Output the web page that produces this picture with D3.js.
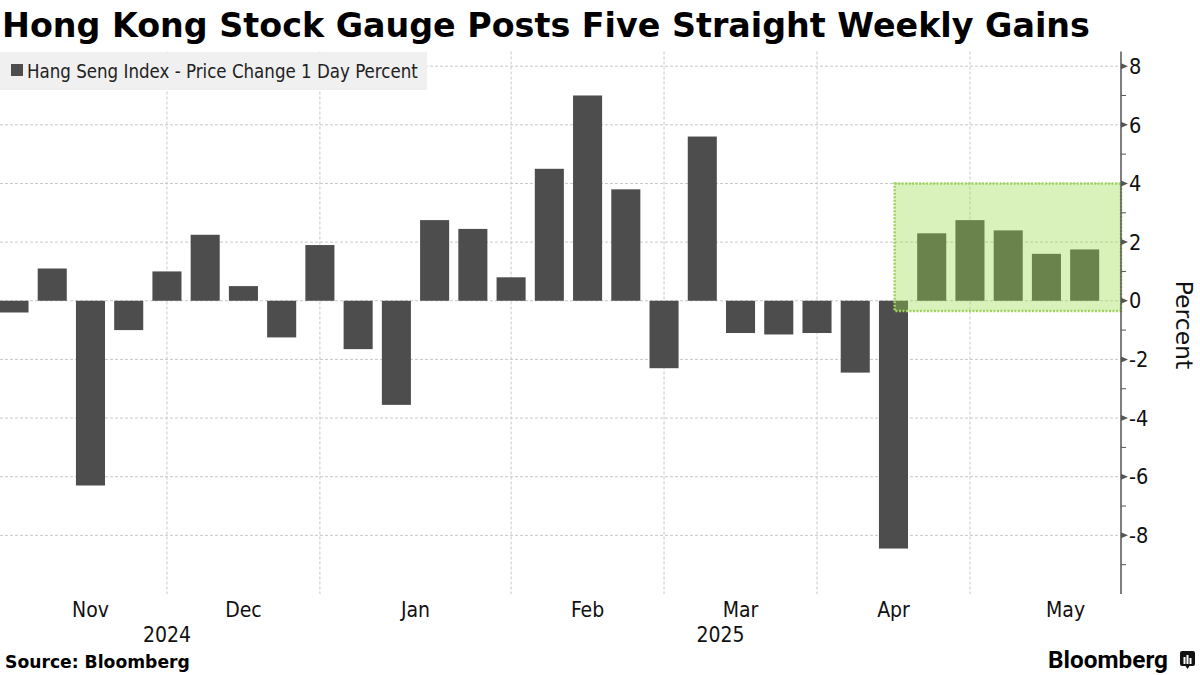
<!DOCTYPE html>
<html>
<head>
<meta charset="utf-8">
<script src="https://cdn.jsdelivr.net/npm/d3@7"></script>
<style>
  body { margin: 0; background: #fff; }
  svg { display: block; }
  text { font-family: "DejaVu Sans Condensed", "DejaVu Sans", sans-serif; font-stretch: condensed; }
</style>
</head>
<body>
<svg id="chart" width="1200" height="675"></svg>
<script>
// weekly data, week ending dates
const weeks = ["2024-11-01", "2024-11-08", "2024-11-15", "2024-11-22", "2024-11-29",
               "2024-12-06", "2024-12-13", "2024-12-20", "2024-12-27",
               "2025-01-03", "2025-01-10", "2025-01-17", "2025-01-24", "2025-01-31",
               "2025-02-07", "2025-02-14", "2025-02-21", "2025-02-28",
               "2025-03-07", "2025-03-14", "2025-03-21", "2025-03-28",
               "2025-04-03", "2025-04-11", "2025-04-17", "2025-04-25",
               "2025-05-02", "2025-05-09", "2025-05-16"]
const changes = [-0.4, 1.1, -6.3, -1.0, 1.0,
                 2.25, 0.5, -1.25, 1.9,
                 -1.65, -3.55, 2.75, 2.45, 0.8,
                 4.5, 7.0, 3.8, -2.3,
                 5.6, -1.1, -1.15, -1.1,
                 -2.45, -8.45, 2.3, 2.75,
                 2.4, 1.6, 1.75]
const yTicks = [-8, -6, -4, -2, 0, 2, 4, 6, 8]
const monthNames = ["Nov", "Dec", "Jan", "Feb", "Mar", "Apr", "May"]
const yearNames = ["2024", "2025"]
const streakStart = 24   // first of the five straight weekly gains
const streakTop = 4

const svg = d3.select("#chart")
const BAR = "#4d4d4d"
const plotRight = 1121

// scales
const x = d3.scaleLinear().domain([-0.366, 28.95]).range([0, plotRight])
const y = d3.scaleLinear().domain([-10, 8.5]).range([594, 51.5])
const step = x(1) - x(0)
const barW = step * 0.76

// month boundaries = last week of each month
const parse = d3.timeParse("%Y-%m-%d")
const dates = weeks.map(parse)
let monthLines = []
for (let i = 0; i < dates.length - 1; i++) {
    if (dates[i].getMonth() !== dates[i + 1].getMonth()) monthLines.push(i)
}

// grid
const grid = svg.append("g")
grid.selectAll("line.h")
    .data(yTicks)
    .enter().append("line")
    .attr("x1", 0).attr("x2", plotRight)
    .attr("y1", d => y(d)).attr("y2", d => y(d))
    .attr("stroke", "#c8c8c8")
    .attr("stroke-dasharray", "3,2")
grid.selectAll("line.v")
    .data(monthLines)
    .enter().append("line")
    .attr("x1", d => x(d)).attr("x2", d => x(d))
    .attr("y1", y.range()[1]).attr("y2", y.range()[0])
    .attr("stroke", "#c8c8c8")
    .attr("stroke-dasharray", "3,2")

// bars
svg.append("g").selectAll("rect")
    .data(changes)
    .enter().append("rect")
    .attr("x", (d, i) => x(i) - barW / 2)
    .attr("width", barW)
    .attr("y", d => y(Math.max(0, d)))
    .attr("height", d => Math.abs(y(d) - y(0)))
    .attr("fill", BAR)

// highlight for the streak
const hx = x(streakStart) - step * 0.97
svg.append("rect")
    .attr("x", hx)
    .attr("y", y(streakTop))
    .attr("width", plotRight - hx)
    .attr("height", y(-0.35) - y(streakTop))
    .attr("fill", "#9bda4a")
    .attr("fill-opacity", 0.38)
svg.append("rect")
    .attr("x", hx)
    .attr("y", y(streakTop))
    .attr("width", plotRight - hx)
    .attr("height", y(-0.35) - y(streakTop))
    .attr("fill", "none")
    .attr("stroke", "#9fd35c")
    .attr("stroke-width", 2.5)
    .attr("stroke-dasharray", "2,1.5")

// right axis
const ax = svg.append("g")
ax.append("line")
    .attr("x1", plotRight).attr("x2", plotRight)
    .attr("y1", y.range()[1]).attr("y2", y.range()[0])
    .attr("stroke", "#555").attr("stroke-width", 1.5)
ax.selectAll("path.tick")
    .data(yTicks)
    .enter().append("path")
    .attr("d", d => "M" + plotRight + "," + (y(d) - 3) + "L" + (plotRight + 7) + "," + y(d) + "L" + plotRight + "," + (y(d) + 3) + "Z")
    .attr("fill", "#555")
ax.selectAll("line.minor")
    .data(d3.range(-9, 9, 2))
    .enter().append("line")
    .attr("x1", plotRight).attr("x2", plotRight + 5)
    .attr("y1", d => y(d)).attr("y2", d => y(d))
    .attr("stroke", "#555")
ax.selectAll("text")
    .data(yTicks)
    .enter().append("text")
    .attr("x", plotRight + 8)
    .attr("y", d => y(d))
    .attr("dy", "0.36em")
    .attr("font-size", 21.5)
    .attr("fill", "#111")
    .text(d => d)

svg.append("text")
    .attr("transform", "translate(1176,325) rotate(90)")
    .attr("text-anchor", "middle")
    .style("font-family", "DejaVu Sans")
    .style("font-stretch", "normal")
    .attr("font-size", 23.5)
    .attr("fill", "#111")
    .text("Percent")

// month and year labels
const bounds = [0].concat(monthLines).concat([changes.length + 1])
svg.append("g").selectAll("text")
    .data(monthNames)
    .enter().append("text")
    .attr("x", (d, i) => x((bounds[i] + bounds[i + 1]) / 2))
    .attr("y", 617)
    .attr("text-anchor", "middle")
    .attr("font-size", 21)
    .attr("fill", "#111")
    .text(d => d)
const yearBounds = [x(0), x(monthLines[1]), plotRight]
svg.append("g").selectAll("text")
    .data(yearNames)
    .enter().append("text")
    .attr("x", (d, i) => (yearBounds[i] + yearBounds[i + 1]) / 2)
    .attr("y", 642)
    .attr("text-anchor", "middle")
    .attr("font-size", 21)
    .attr("fill", "#111")
    .text(d => d)

// legend
svg.append("rect")
    .attr("x", 0).attr("y", 52)
    .attr("width", 427).attr("height", 38)
    .attr("fill", "#f0f0f0")
svg.append("rect")
    .attr("x", 11).attr("y", 64)
    .attr("width", 12).attr("height", 12)
    .attr("fill", BAR)
const legendText = svg.append("text")
    .attr("x", 27).attr("y", 77.5)
    .attr("font-size", 18.5)
    .attr("fill", "#222")
    .text("Hang Seng Index - Price Change 1 Day Percent")
let lw = legendText.node().getComputedTextLength()
legendText.attr("font-size", 18.5 * 391 / lw)

// title
const title = svg.append("text")
    .attr("x", 2).attr("y", 37)
    .style("font-family", "DejaVu Sans")
    .style("font-stretch", "normal")
    .attr("font-weight", "bold")
    .attr("font-size", 32)
    .attr("fill", "#000")
    .text("Hong Kong Stock Gauge Posts Five Straight Weekly Gains")
let tw = title.node().getComputedTextLength()
title.attr("font-size", 32 * 1088 / tw)

// footer
const source = svg.append("text")
    .attr("x", 5).attr("y", 668)
    .style("font-family", "DejaVu Sans")
    .style("font-stretch", "normal")
    .attr("font-weight", "bold")
    .attr("font-size", 17)
    .attr("fill", "#000")
    .text("Source: Bloomberg")
let sw = source.node().getComputedTextLength()
source.attr("font-size", 17 * 185 / sw)

const brand = svg.append("text")
    .attr("x", 1168).attr("y", 668)
    .attr("text-anchor", "end")
    .style("font-family", "Roboto")
    .style("font-stretch", "normal")
    .attr("font-weight", "bold")
    .attr("font-size", 24)
    .attr("fill", "#000")
    .text("Bloomberg")
let bw = brand.node().getComputedTextLength()
brand.attr("font-size", 24 * 120 / bw)
const logo = svg.append("g").attr("transform", "translate(1180,651)")
logo.append("path")
    .attr("d", "M2,0H13Q15,0 15,2V13Q15,15 13,15H9.5L7.5,18L5.5,15H2Q0,15 0,13V2Q0,0 2,0Z")
    .attr("fill", "#111")
logo.selectAll("rect")
    .data([[3.5, 6, 9], [6.5, 4, 11], [9.5, 7, 8]])
    .enter().append("rect")
    .attr("x", d => d[0]).attr("y", d => d[1])
    .attr("width", 2).attr("height", d => d[2] - 2)
    .attr("fill", "#fff")
</script>
</body>
</html>
